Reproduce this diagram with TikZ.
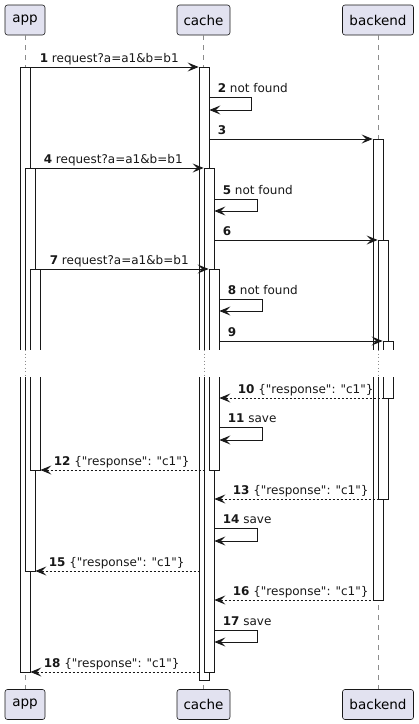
\documentclass[tikz,border=0pt]{standalone}
\usepackage{fontspec}
\setmainfont{DejaVu Sans}
\usepackage{xcolor}
\usetikzlibrary{arrows.meta, positioning, calc, fit}
\definecolor{partfill}{HTML}{E2E2F0}
\definecolor{darkline}{HTML}{181818}
\definecolor{lifegray}{HTML}{8C8C8C}
\newcommand{\dq}{\textquotedbl}

\begin{document}
\begin{tikzpicture}[x=1pt, y=-1pt, >={Stealth[length=11pt, width=9pt, inset=4.5pt]},
    part/.style={draw=darkline, fill=partfill, rounded corners=2.5pt, line width=0.6pt,
      minimum height=30pt, inner sep=0pt, font=\fontsize{13.5}{16}\selectfont},
    life/.style={lifegray, line width=0.6pt, dash pattern=on 5pt off 5pt},
    bar/.style={draw=darkline, fill=white, line width=0.8pt, inner sep=0pt},
    call/.style={->, darkline, line width=0.8pt},
    reply/.style={<-, darkline, line width=0.8pt, dash pattern=on 2pt off 2pt},
    lbl/.style={anchor=base west, inner sep=0pt, yshift=5pt, font=\fontsize{12}{14}\selectfont}]
    \useasboundingbox (0,0) rectangle (419,724);
    % Participants
    \node[part, minimum width=40pt] (appT) at (25,20) {app};
    \node[part, minimum width=53pt] (cacheT) at (203.5,20) {cache};
    \node[part, minimum width=71pt] (backT) at (378,20) {backend};
    \node[part, minimum width=40pt] (appB) at (25,704.5) {app};
    \node[part, minimum width=53pt] (cacheB) at (203.5,704.5) {cache};
    \node[part, minimum width=71pt] (backB) at (378,704.5) {backend};
    % Lifelines
    \draw[life] (appT) -- (appB);
    \draw[life] (cacheT) -- (cacheB);
    \draw[life] (backT) -- (backB);
    % Activation bars
    \foreach \n/\x/\t/\b in {a1/20/67/672, a2/25/168/571, a3/30/269/470,
        c1/199/67/680, c2/204/168/672, c3/209/269/470,
        b1/373/139/600, b2/378/240/499, b3/383/341/398} {
        \node[bar, fit={(\x,\t) ({\x+10},\b)}] (\n) {};
    }
    % Delay
    \fill[white] (0,350) rectangle (419,377);
    \foreach \x in {25, 204, 378} {
        \draw[lifegray, line width=0.6pt, dash pattern=on 1pt off 2.5pt] (\x,350) -- (\x,377);
    }
    % Messages
    \draw[call] (a1.east |- 0,67) -- node[lbl, pos=0, xshift=9pt] (m1) {\textbf{1} request?a=a1\&b=b1} (c1.west |- 0,67);
    \draw[call] (c1.east |- 0,97) -- node[lbl, pos=0, xshift=8pt] (m2) {\textbf{2} not found} ++(42,0) -- ++(0,13) -- (c1.east |- 0,110);
    \draw[call] (c1.east |- 0,139) -- node[lbl, pos=0, xshift=8pt] (m3) {\textbf{3}} (b1.west |- 0,139);
    \draw[call] (a2.east |- 0,168) -- node[lbl, pos=0, xshift=8pt] (m4) {\textbf{4} request?a=a1\&b=b1} (c2.west |- 0,168);
    \draw[call] (c2.east |- 0,199) -- node[lbl, pos=0, xshift=8pt] (m5) {\textbf{5} not found} ++(42.5,0) -- ++(0,12) -- (c2.east |- 0,211);
    \draw[call] (c2.east |- 0,240) -- node[lbl, pos=0, xshift=8pt] (m6) {\textbf{6}} (b2.west |- 0,240);
    \draw[call] (a3.east |- 0,269) -- node[lbl, pos=0, xshift=9pt] (m7) {\textbf{7} request?a=a1\&b=b1} (c3.west |- 0,269);
    \draw[call] (c3.east |- 0,299) -- node[lbl, pos=0, xshift=8pt] (m8) {\textbf{8} not found} ++(42.5,0) -- ++(0,12) -- (c3.east |- 0,311);
    \draw[call] (c3.east |- 0,341) -- node[lbl, pos=0, xshift=8pt] (m9) {\textbf{9}} (b3.west |- 0,341);
    \draw[reply] (c3.east |- 0,398) -- node[lbl, pos=0, xshift=18pt] (m10) {\textbf{10} \{\dq response\dq: \dq c1\dq\}} (b3.west |- 0,398);
    \draw[call] (c3.east |- 0,427) -- node[lbl, pos=0, xshift=8pt] (m11) {\textbf{11} save} ++(42.5,0) -- ++(0,13) -- (c3.east |- 0,440);
    \draw[reply] (a3.east |- 0,470) -- node[lbl, pos=0, xshift=13pt] (m12) {\textbf{12} \{\dq response\dq: \dq c1\dq\}} (c2.west |- 0,470);
    \draw[reply] (c2.east |- 0,499) -- node[lbl, pos=0, xshift=18pt] (m13) {\textbf{13} \{\dq response\dq: \dq c1\dq\}} (b2.west |- 0,499);
    \draw[call] (c2.east |- 0,528) -- node[lbl, pos=0, xshift=8pt] (m14) {\textbf{14} save} ++(42.5,0) -- ++(0,13) -- (c2.east |- 0,541);
    \draw[reply] (a2.east |- 0,571) -- node[lbl, pos=0, xshift=13pt] (m15) {\textbf{15} \{\dq response\dq: \dq c1\dq\}} (c1.west |- 0,571);
    \draw[reply] (c2.east |- 0,600) -- node[lbl, pos=0, xshift=18pt] (m16) {\textbf{16} \{\dq response\dq: \dq c1\dq\}} (b1.west |- 0,600);
    \draw[call] (c2.east |- 0,630) -- node[lbl, pos=0, xshift=8pt] (m17) {\textbf{17} save} ++(42.5,0) -- ++(0,12) -- (c2.east |- 0,642);
    \draw[reply] (a1.east |- 0,672) -- node[lbl, pos=0, xshift=13pt] (m18) {\textbf{18} \{\dq response\dq: \dq c1\dq\}} (c1.west |- 0,672);
\end{tikzpicture}
\end{document}
